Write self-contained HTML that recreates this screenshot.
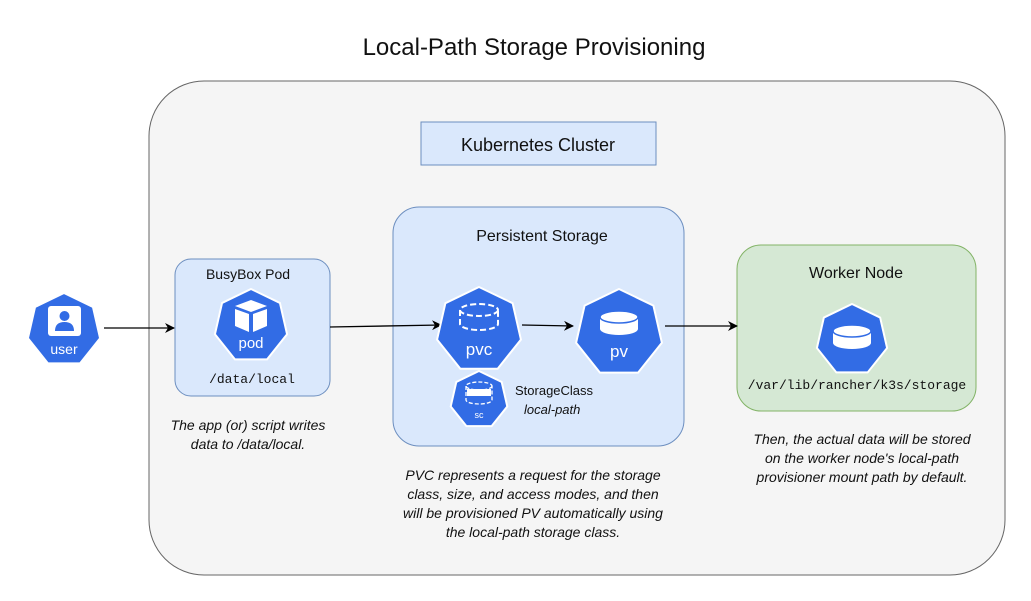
<!DOCTYPE html>
<html><head><meta charset="utf-8"><style>
body{margin:0;background:#fff;}
svg{display:block;font-family:"Liberation Sans",sans-serif;}
.mono{font-family:"Liberation Mono",monospace;}
</style></head><body>
<svg width="1031" height="601" viewBox="0 0 1031 601">
<defs>
<marker id="a" markerWidth="10" markerHeight="10" refX="9" refY="5" orient="auto" markerUnits="userSpaceOnUse"><path d="M0,0 L10,5 L0,10 L3,5 z" fill="#000"/></marker>
</defs>
<text x="534" y="55" font-size="24" text-anchor="middle" fill="#111">Local-Path Storage Provisioning</text>
<rect x="149" y="81" width="856" height="494" rx="55" fill="#f5f5f5" stroke="#666" stroke-width="1"/>
<rect x="421" y="122" width="235" height="43" fill="#dae8fc" stroke="#6c8ebf"/>
<text x="538" y="151" font-size="18" text-anchor="middle" fill="#111">Kubernetes Cluster</text>

<rect x="175" y="259" width="155" height="137" rx="16" fill="#dae8fc" stroke="#6c8ebf"/>
<text x="248" y="279" font-size="14" text-anchor="middle" fill="#111">BusyBox Pod</text>
<text x="252" y="383" font-size="13" text-anchor="middle" class="mono" fill="#111">/data/local</text>
<text x="248" y="430" font-size="14" text-anchor="middle" font-style="italic" fill="#111">The app (or) script writes</text>
<text x="248" y="449" font-size="14" text-anchor="middle" font-style="italic" fill="#111">data to /data/local.</text>

<rect x="393" y="207" width="291" height="239" rx="26" fill="#dae8fc" stroke="#6c8ebf"/>
<text x="542" y="241" font-size="16" text-anchor="middle" fill="#111">Persistent Storage</text>
<text x="515" y="395" font-size="13" fill="#111">StorageClass</text>
<text x="524" y="414" font-size="13" font-style="italic" fill="#111">local-path</text>
<text x="533" y="480" font-size="14" text-anchor="middle" font-style="italic" fill="#111">PVC represents a request for the storage</text>
<text x="533" y="499" font-size="14" text-anchor="middle" font-style="italic" fill="#111">class, size, and access modes, and then</text>
<text x="533" y="518" font-size="14" text-anchor="middle" font-style="italic" fill="#111">will be provisioned PV automatically using</text>
<text x="533" y="537" font-size="14" text-anchor="middle" font-style="italic" fill="#111">the local-path storage class.</text>

<rect x="737" y="245" width="239" height="166" rx="24" fill="#d5e8d4" stroke="#82b366"/>
<text x="856" y="278" font-size="16" text-anchor="middle" fill="#111">Worker Node</text>
<text x="857" y="389" font-size="13" text-anchor="middle" class="mono" fill="#111">/var/lib/rancher/k3s/storage</text>
<text x="862" y="444" font-size="14" text-anchor="middle" font-style="italic" fill="#111">Then, the actual data will be stored</text>
<text x="862" y="463" font-size="14" text-anchor="middle" font-style="italic" fill="#111">on the worker node's local-path</text>
<text x="862" y="482" font-size="14" text-anchor="middle" font-style="italic" fill="#111">provisioner mount path by default.</text>

<line x1="104" y1="328" x2="174" y2="328" stroke="#000" stroke-width="1.3" marker-end="url(#a)"/>
<line x1="330" y1="327" x2="441" y2="325" stroke="#000" stroke-width="1.3" marker-end="url(#a)"/>
<line x1="522" y1="325" x2="573" y2="326" stroke="#000" stroke-width="1.3" marker-end="url(#a)"/>
<line x1="665" y1="326" x2="737" y2="326" stroke="#000" stroke-width="1.3" marker-end="url(#a)"/>

<g fill="#326ce5" stroke="#fff" stroke-width="2">
<polygon vector-effect="non-scaling-stroke" transform="translate(64,330) scale(37)" points="0,-1 0.7818,-0.6235 0.9749,0.2225 0.4339,0.901 -0.4339,0.901 -0.9749,0.2225 -0.7818,-0.6235"/>
<polygon vector-effect="non-scaling-stroke" transform="translate(251,326) scale(37)" points="0,-1 0.7818,-0.6235 0.9749,0.2225 0.4339,0.901 -0.4339,0.901 -0.9749,0.2225 -0.7818,-0.6235"/>
<polygon vector-effect="non-scaling-stroke" transform="translate(479,330) scale(43)" points="0,-1 0.7818,-0.6235 0.9749,0.2225 0.4339,0.901 -0.4339,0.901 -0.9749,0.2225 -0.7818,-0.6235"/>
<polygon vector-effect="non-scaling-stroke" transform="translate(619,333) scale(44)" points="0,-1 0.7818,-0.6235 0.9749,0.2225 0.4339,0.901 -0.4339,0.901 -0.9749,0.2225 -0.7818,-0.6235"/>
<polygon vector-effect="non-scaling-stroke" transform="translate(479,400) scale(29)" points="0,-1 0.7818,-0.6235 0.9749,0.2225 0.4339,0.901 -0.4339,0.901 -0.9749,0.2225 -0.7818,-0.6235"/>
<polygon vector-effect="non-scaling-stroke" transform="translate(852,340) scale(36)" points="0,-1 0.7818,-0.6235 0.9749,0.2225 0.4339,0.901 -0.4339,0.901 -0.9749,0.2225 -0.7818,-0.6235"/>
</g>
<rect x="48" y="306" width="33" height="30" rx="3" fill="#fff"/>
<circle cx="64.5" cy="316" r="5" fill="#326ce5"/>
<path d="M55,331 q0,-9 9.5,-9 q9.5,0 9.5,9 z" fill="#326ce5"/>
<text x="64" y="354" font-size="14" text-anchor="middle" fill="#fff">user</text>
<path d="M251,300 l16,6 l-16,6 l-16,-6 z" fill="#fff"/>
<path d="M235,309 l14,5 v18 l-14,-6 z M267,309 l-14,5 v18 l14,-6 z" fill="#fff"/>
<text x="251" y="348" font-size="15" text-anchor="middle" fill="#fff">pod</text>
<g fill="none" stroke="#fff" stroke-width="2" stroke-dasharray="6,3">
<ellipse cx="479" cy="310" rx="19" ry="6"/>
<path d="M460,310 v14 a19,6 0 0 0 38,0 v-14"/>
</g>
<text x="479" y="355" font-size="17" text-anchor="middle" fill="#fff">pvc</text>
<path d="M600,317 v12 a19,6 0 0 0 38,0 v-12 z" fill="#fff"/>
<ellipse cx="619" cy="317" rx="19" ry="6" fill="#fff" stroke="#326ce5" stroke-width="1.5"/>
<text x="619" y="357" font-size="17" text-anchor="middle" fill="#fff">pv</text>
<g fill="none" stroke="#fff" stroke-width="1.3" stroke-dasharray="4,2">
<ellipse cx="479" cy="386" rx="13" ry="4"/>
<path d="M466,386 v14 a13,4 0 0 0 26,0 v-14"/>
</g>
<rect x="467" y="389" width="24" height="7" fill="#fff"/>
<text x="479" y="418" font-size="9" text-anchor="middle" fill="#fff">sc</text>
<path d="M833,331 v12 a19,6 0 0 0 38,0 v-12 z" fill="#fff"/>
<ellipse cx="852" cy="331" rx="19" ry="6" fill="#fff" stroke="#326ce5" stroke-width="1.5"/>
</svg>
</body></html>
